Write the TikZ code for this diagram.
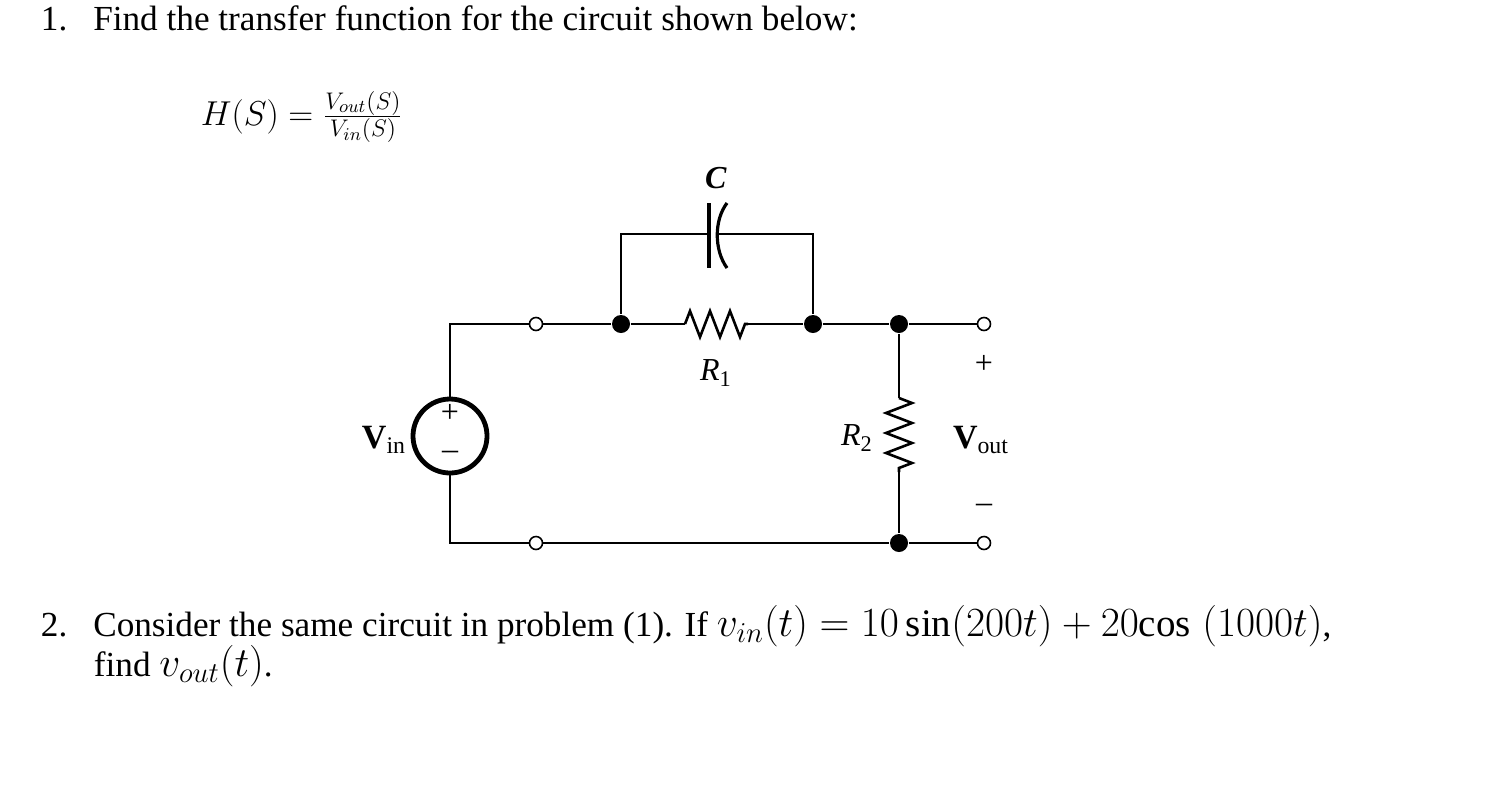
\documentclass[tikz,border=0pt]{standalone}
\usepackage{fontspec}
\setmainfont{Liberation Serif}
\usetikzlibrary{decorations.pathmorphing}
\begin{document}
\begin{tikzpicture}[x=0.5pt,y=-0.5pt,line width=0.9pt,
  open/.style={circle,draw,fill=white,inner sep=0pt,minimum size=6.5pt,line width=0.8pt},
  dot/.style={circle,fill=black,inner sep=0pt,minimum size=9pt},
  wire/.style={line width=0.9pt},
  zz/.style={decorate,decoration={zigzag,segment length=10pt,amplitude=6.5pt},line width=1.3pt},
  txt/.style={font=\fontsize{17.6}{21}\selectfont,anchor=base west,inner sep=0pt},
  lbl/.style={font=\fontsize{16}{19}\selectfont,inner sep=0pt}]
\useasboundingbox (0,0) rectangle (1504,789);
\node[txt] (t1) at (40,30) {1.\hspace{13pt}Find the transfer function for the circuit shown below:};
\node[txt,font=\fontsize{18}{22}\selectfont] (eq) at (200,125) {$H(S)=\frac{V_{out}(S)}{V_{in}(S)}$};
% nodes
\coordinate (tl) at (450,324);
\coordinate (bl) at (450,543);
\node[open] (o1) at (536,324) {};
\node[open] (o2) at (536,543) {};
\node[dot] (d1) at (621,324) {};
\node[dot] (d2) at (813,324) {};
\node[dot] (d3) at (899,324) {};
\node[dot] (d4) at (899,543) {};
\node[open] (o3) at (984,324) {};
\node[open] (o4) at (984,543) {};
\node[circle,draw,line width=2.4pt,minimum size=37pt,inner sep=0pt] (src) at (450,436) {};
\node[lbl] at (450,413) {+};
\node[lbl] at (450,455) {\textendash};
\coordinate (c1) at (621,234);
\coordinate (c2) at (813,234);
\coordinate (ca) at (709,234);
\coordinate (cb) at (718,234);
\coordinate (r1a) at (685,324);
\coordinate (r1b) at (748,324);
\coordinate (r2a) at (899,398);
\coordinate (r2b) at (899,472);
% wires
\draw[wire] (src.north) -- (tl) -- (o1) -- (d1) -- (r1a);
\draw[zz] (r1a) -- (r1b);
\draw[wire] (r1b) -- (d2) -- (d3) -- (o3);
\draw[wire] (src.south) -- (bl) -- (o2) -- (d4) -- (o4);
\draw[wire] (d1) -- (c1) -- (ca);
\draw[wire] (cb) -- (c2) -- (d2);
\draw[line width=1.6pt] (709,203) -- (709,268);
\draw[line width=1.6pt] (727,203) .. controls (714,220) and (714,250) .. (727,268);
\draw[wire] (d3) -- (r2a);
\draw[zz] (r2a) -- (r2b);
\draw[wire] (r2b) -- (d4);
% labels
\node[lbl] at (716,178) {\textbf{\textit{C}}};
\node[lbl] at (716,373) {\textit{R}\textsubscript{1}};
\node[lbl] at (857,438) {\textit{R}\textsubscript{2}};
\node[lbl,font=\fontsize{17}{20}\selectfont] at (384,440) {\textbf{V}\textsubscript{in}};
\node[lbl,font=\fontsize{17}{20}\selectfont] at (981,440) {\textbf{V}\textsubscript{out}};
\node[lbl] at (984,364) {+};
\node[lbl] at (984,508) {\textendash};
\node[txt] (t2) at (40,636) {2.\hspace{13pt}Consider the same circuit in problem (1). If {\fontsize{19.5}{23}\selectfont$v_{in}(t)=10\sin(200t)+20\mathrm{cos}\;(1000t)$},};
\node[txt] (t3) at (93,676) {find {\fontsize{19.5}{23}\selectfont$v_{out}(t)$}.};
\end{tikzpicture}
\end{document}
